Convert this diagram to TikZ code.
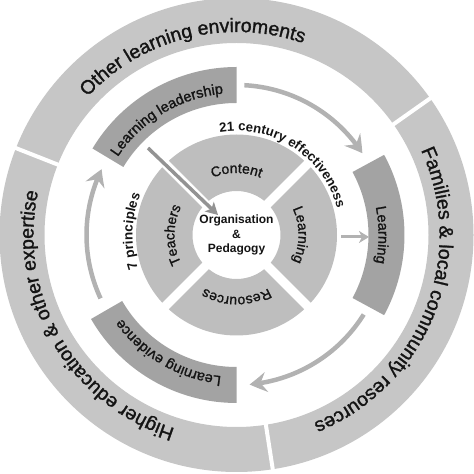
\documentclass[tikz,border=0pt]{standalone}
\usepackage{fontspec}
\setmainfont{Liberation Sans}
\newfontfamily\medfont{Liberation Sans}[FakeBold=1.3]
\usetikzlibrary{decorations.text, arrows.meta, bending, calc}
\definecolor{outerc}{RGB}{198,198,198}
\definecolor{midc}{RGB}{163,163,163}
\definecolor{innerc}{RGB}{190,190,190}
\definecolor{arrowc}{RGB}{178,178,178}
\definecolor{textc}{RGB}{20,20,20}
\newcommand{\annseg}[5]{%
  \fill[#1] ($(c)+(#2:#5)$) arc[start angle=#2, end angle=#3, radius=#5]
    -- ($(c)+(#3:#4)$) arc[start angle=#3, end angle=#2, radius=#4] -- cycle;}
\newcommand{\arctext}[5]{%
  \path[decorate, decoration={text along path, text align=center, text color=textc,
    text={|#4\fontsize{#3}{#3}\selectfont|#5}}]
    ($(c)+(#1+85:#2)$) arc[start angle=#1+85, end angle=#1-85, radius=#2];}
\tikzset{
  ringarrow/.style={draw=arrowc, line width=4.5, -{Stealth[length=17, width=20, inset=6, bend]}},
  smallarrow/.style={draw=arrowc, line width=3, -{Stealth[length=10, width=12, inset=3]}},
  diagarrow/.style={draw=midc!90!black, line width=3.5, -{Stealth[length=12, width=13, inset=3]}},
  gapline/.style={draw=white, line width=#1},
  centertext/.style={circle, fill=none, minimum size=88, inner sep=0, align=center,
    text=textc, font=\bfseries\fontsize{12}{14.5}\selectfont}
}
\begin{document}
\begin{tikzpicture}[x=1pt, y=1pt]
\useasboundingbox (0,0) rectangle (474,474);
\coordinate (c) at (236.5,239);
% outer ring
\annseg{outerc}{0}{360}{192}{237}
\foreach \a in {158.5,35.2,-81.2}{
  \draw[gapline=4] ($(c)+(\a:188)$) -- ($(c)+(\a:240)$);}
% middle ring segments
\annseg{midc}{149}{90}{132}{168}
\annseg{midc}{28.5}{-28.5}{132}{168}
\annseg{midc}{210}{270}{132}{168}
% inner ring
\annseg{innerc}{0}{360}{44}{100.5}
\foreach \a in {45,135,225,315}{
  \draw[gapline=9] ($(c)+(\a:40)$) -- ($(c)+(\a:104)$);}
% center node
\node[centertext] (org) at (c) {Organisation\\\&\\Pedagogy};
% ring arrows
\draw[ringarrow] ($(c)+(87:150)$) arc[start angle=87, end angle=33, radius=150];
\draw[ringarrow] ($(c)+(-32:150)$) arc[start angle=-32, end angle=-85, radius=150];
\draw[ringarrow] ($(c)+(205:150)$) arc[start angle=205, end angle=154, radius=150];
% straight arrows
\coordinate (llfoot) at (148,326);
\coordinate (orgtip) at (218,259);
\draw[diagarrow] (llfoot) -- (orgtip);
\coordinate (inright) at (341,237);
\coordinate (learnleft) at (369,237);
\draw[smallarrow] (inright) -- (learnleft);
% outer texts
\arctext{104}{203}{19.5}{\medfont}{Other learning enviroments}
\arctext{-21.5}{203}{19.5}{\medfont}{Families {\&} local community resources}
\arctext{210}{203}{19.5}{\medfont}{Higher education {\&} other expertise}
% middle texts
\arctext{121}{142}{14.5}{\medfont}{Learning leadership}
\arctext{0}{142}{14.5}{\medfont}{Learning}
\arctext{240}{142}{14.5}{\medfont}{Learning evidence}
\arctext{57}{104}{13.2}{\bfseries}{21 century effectiveness}
\arctext{178}{104}{13.5}{\bfseries}{7 principles}
% inner texts
\arctext{90}{62}{14}{\medfont}{Content}
\arctext{0}{62}{14}{\medfont}{Learning}
\arctext{270}{62}{14}{\medfont}{Resources}
\arctext{180}{62}{14}{\medfont}{Teachers}
\end{tikzpicture}
\end{document}
